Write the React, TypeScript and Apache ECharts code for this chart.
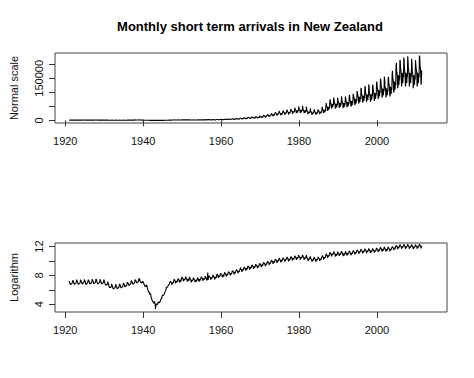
import React, { useEffect, useRef } from "react";
import * as echarts from "echarts";

const START_YEAR = 1921;
const TITLE = "Monthly short term arrivals in New Zealand";
const TOP_NAME = "Normal scale";
const BOTTOM_NAME = "Logarithm";

// Natural log of monthly arrivals, one row per year (Jan..Dec), 1921..2011
const logArrivals: number[][] = [
  [7.22, 7.16, 6.98, 6.87, 6.68, 6.63, 6.82, 6.86, 6.79, 6.91, 7.03, 7.33],
  [7.28, 7.21, 7.04, 6.91, 6.73, 6.71, 6.86, 6.88, 6.84, 6.97, 7.06, 7.42],
  [7.31, 7.18, 7.06, 6.89, 6.76, 6.69, 6.84, 6.91, 6.86, 6.94, 7.04, 7.38],
  [7.36, 7.24, 7.11, 6.94, 6.79, 6.76, 6.91, 6.94, 6.89, 7.01, 7.12, 7.44],
  [7.29, 7.21, 7.05, 6.91, 6.74, 6.71, 6.85, 6.89, 6.86, 6.96, 7.04, 7.41],
  [7.34, 7.26, 7.09, 6.96, 6.81, 6.74, 6.89, 6.96, 6.91, 6.99, 7.11, 7.46],
  [7.41, 7.29, 7.16, 6.99, 6.84, 6.81, 6.94, 7.01, 6.94, 7.06, 7.14, 7.52],
  [7.36, 7.24, 7.1, 6.94, 6.8, 6.76, 6.9, 6.94, 6.9, 7.0, 7.09, 7.47],
  [7.34, 7.26, 7.09, 6.96, 6.79, 6.74, 6.91, 6.95, 6.89, 6.99, 7.08, 7.42],
  [7.32, 7.18, 7.0, 6.84, 6.66, 6.6, 6.72, 6.75, 6.68, 6.76, 6.84, 7.16],
  [6.92, 6.8, 6.64, 6.48, 6.3, 6.24, 6.36, 6.38, 6.32, 6.4, 6.48, 6.84],
  [6.66, 6.54, 6.4, 6.24, 6.1, 6.05, 6.2, 6.24, 6.2, 6.3, 6.4, 6.76],
  [6.7, 6.6, 6.45, 6.3, 6.15, 6.1, 6.25, 6.3, 6.26, 6.36, 6.46, 6.82],
  [6.82, 6.71, 6.55, 6.4, 6.26, 6.2, 6.36, 6.4, 6.36, 6.46, 6.56, 6.92],
  [6.96, 6.86, 6.7, 6.55, 6.4, 6.35, 6.5, 6.56, 6.5, 6.6, 6.72, 7.06],
  [7.14, 7.06, 6.9, 6.76, 6.6, 6.55, 6.7, 6.76, 6.7, 6.8, 6.92, 7.26],
  [7.3, 7.2, 7.06, 6.9, 6.75, 6.7, 6.86, 6.9, 6.86, 6.96, 7.06, 7.42],
  [7.5, 7.4, 7.25, 7.1, 6.95, 6.9, 7.05, 7.1, 7.05, 7.15, 7.25, 7.6],
  [7.56, 7.45, 7.3, 7.15, 7.0, 6.95, 7.1, 7.14, 6.9, 6.85, 6.9, 7.2],
  [7.15, 7.0, 6.9, 6.75, 6.6, 6.5, 6.6, 6.55, 6.45, 6.4, 6.45, 6.7],
  [6.4, 6.25, 6.1, 5.95, 5.8, 5.65, 5.75, 5.6, 5.45, 5.35, 5.3, 5.5],
  [5.1, 4.9, 4.8, 4.65, 4.5, 4.35, 4.45, 4.3, 4.2, 4.25, 4.15, 4.4],
  [4.2, 3.95, 3.35, 3.9, 4.05, 3.85, 4.0, 4.1, 3.95, 4.05, 4.1, 4.35],
  [4.3, 4.2, 4.25, 4.35, 4.4, 4.45, 4.6, 4.7, 4.75, 4.85, 5.0, 5.2],
  [5.3, 5.2, 5.25, 5.3, 5.35, 5.4, 5.6, 5.7, 5.75, 5.85, 6.0, 6.2],
  [6.4, 6.3, 6.4, 6.45, 6.5, 6.5, 6.65, 6.7, 6.75, 6.85, 6.95, 7.2],
  [7.28, 7.12, 7.1, 6.98, 6.7, 6.78, 7.04, 6.88, 6.8, 7.02, 6.94, 7.36],
  [7.48, 7.33, 7.29, 7.18, 6.91, 6.97, 7.25, 7.07, 7.01, 7.22, 7.13, 7.57],
  [7.62, 7.47, 7.46, 7.32, 7.05, 7.14, 7.38, 7.24, 7.15, 7.37, 7.3, 7.7],
  [7.79, 7.61, 7.6, 7.49, 7.19, 7.28, 7.55, 7.37, 7.31, 7.52, 7.43, 7.86],
  [7.72, 7.58, 7.54, 7.43, 7.16, 7.22, 7.48, 7.34, 7.24, 7.47, 7.4, 7.8],
  [7.64, 7.46, 7.45, 7.34, 7.04, 7.13, 7.4, 7.22, 7.16, 7.36, 7.29, 7.7],
  [7.62, 7.48, 7.44, 7.32, 7.06, 7.12, 7.38, 7.24, 7.14, 7.38, 7.28, 7.72],
  [7.74, 7.56, 7.56, 7.42, 7.14, 7.24, 7.5, 7.32, 7.26, 7.46, 7.4, 7.82],
  [7.82, 7.68, 7.64, 7.54, 7.25, 7.32, 7.6, 7.42, 7.36, 7.58, 7.48, 7.9],
  [7.88, 7.71, 7.7, 7.58, 7.3, 7.38, 7.65, 8.42, 7.4, 7.62, 7.54, 7.96],
  [7.98, 7.82, 7.81, 7.67, 7.4, 7.48, 7.74, 7.58, 7.5, 7.72, 7.64, 8.06],
  [8.04, 7.86, 7.85, 7.74, 7.44, 7.53, 7.8, 7.62, 7.56, 7.77, 7.68, 8.12],
  [8.22, 8.08, 8.04, 7.93, 7.66, 7.72, 7.99, 7.83, 7.75, 7.97, 7.89, 8.3],
  [8.34, 8.16, 8.16, 8.03, 7.74, 7.84, 8.09, 7.93, 7.84, 8.07, 7.99, 8.42],
  [8.43, 8.28, 8.24, 8.13, 7.86, 7.92, 8.2, 8.02, 7.96, 8.17, 8.09, 8.52],
  [8.58, 8.42, 8.41, 8.27, 8.0, 8.09, 8.34, 8.18, 8.1, 8.32, 8.24, 8.66],
  [8.74, 8.56, 8.55, 8.43, 8.15, 8.22, 8.5, 8.32, 8.26, 8.47, 8.39, 8.81],
  [8.88, 8.73, 8.7, 8.58, 8.3, 8.38, 8.64, 8.48, 8.4, 8.62, 8.54, 8.96],
  [9.08, 8.92, 8.91, 8.78, 8.5, 8.58, 8.84, 8.68, 8.6, 8.82, 8.74, 9.16],
  [9.23, 9.07, 9.05, 8.93, 8.65, 8.73, 9.0, 8.83, 8.75, 8.97, 8.89, 9.31],
  [9.38, 9.22, 9.2, 9.08, 8.8, 8.88, 9.14, 8.98, 8.9, 9.12, 9.04, 9.46],
  [9.48, 9.32, 9.31, 9.18, 8.9, 8.98, 9.24, 9.08, 9.0, 9.22, 9.14, 9.56],
  [9.58, 9.42, 9.4, 9.28, 9.0, 9.08, 9.35, 9.18, 9.1, 9.32, 9.24, 9.66],
  [9.73, 9.57, 9.55, 9.43, 9.15, 9.23, 9.49, 9.33, 9.25, 9.47, 9.39, 9.81],
  [9.88, 9.72, 9.7, 9.58, 9.3, 9.38, 9.64, 9.48, 9.4, 9.62, 9.54, 9.96],
  [10.03, 9.87, 9.85, 9.73, 9.45, 9.53, 9.79, 9.63, 9.55, 9.77, 9.69, 10.11],
  [10.18, 10.02, 10.0, 9.88, 9.6, 9.68, 9.94, 9.78, 9.7, 9.92, 9.84, 10.26],
  [10.33, 10.17, 10.15, 10.03, 9.75, 9.83, 10.09, 9.93, 9.85, 10.07, 9.99, 10.41],
  [10.38, 10.22, 10.2, 10.08, 9.8, 9.88, 10.14, 9.98, 9.9, 10.12, 10.04, 10.46],
  [10.48, 10.32, 10.3, 10.18, 9.9, 9.98, 10.24, 10.08, 10.0, 10.22, 10.14, 10.56],
  [10.53, 10.37, 10.35, 10.23, 9.95, 10.03, 10.29, 10.13, 10.05, 10.27, 10.19, 10.61],
  [10.63, 10.47, 10.45, 10.33, 10.05, 10.13, 10.39, 10.23, 10.15, 10.37, 10.29, 10.71],
  [10.73, 10.57, 10.55, 10.43, 10.15, 10.23, 10.49, 10.33, 10.25, 10.47, 10.39, 10.81],
  [10.78, 10.62, 10.6, 10.48, 10.2, 10.28, 10.54, 10.38, 10.3, 10.52, 10.44, 10.86],
  [10.73, 10.57, 10.55, 10.43, 10.15, 10.23, 10.49, 10.33, 10.25, 10.47, 10.39, 10.81],
  [10.58, 10.42, 10.4, 10.28, 10.0, 10.08, 10.34, 10.18, 10.1, 10.32, 10.24, 10.66],
  [10.48, 10.32, 10.3, 10.18, 9.9, 9.98, 10.24, 10.08, 10.0, 10.22, 10.14, 10.56],
  [10.49, 10.31, 10.31, 10.17, 9.91, 9.97, 10.25, 10.07, 10.01, 10.21, 10.15, 10.57],
  [10.58, 10.42, 10.4, 10.28, 10.0, 10.08, 10.34, 10.18, 10.1, 10.32, 10.24, 10.66],
  [10.78, 10.62, 10.6, 10.48, 10.2, 10.28, 10.54, 10.38, 10.3, 10.52, 10.44, 10.86],
  [11.03, 10.87, 10.85, 10.73, 10.45, 10.53, 10.79, 10.63, 10.55, 10.77, 10.69, 11.11],
  [11.23, 11.07, 11.05, 10.93, 10.65, 10.73, 10.99, 10.83, 10.75, 10.97, 10.89, 11.31],
  [11.22, 11.08, 11.04, 10.94, 10.64, 10.74, 10.98, 10.84, 10.74, 10.98, 10.88, 11.3],
  [11.28, 11.12, 11.1, 10.98, 10.7, 10.78, 11.04, 10.88, 10.8, 11.02, 10.94, 11.36],
  [11.27, 11.13, 11.09, 10.99, 10.69, 10.79, 11.03, 10.89, 10.79, 11.03, 10.93, 11.35],
  [11.33, 11.17, 11.15, 11.03, 10.75, 10.83, 11.09, 10.93, 10.85, 11.07, 10.99, 11.41],
  [11.38, 11.22, 11.2, 11.08, 10.8, 10.88, 11.14, 10.98, 10.9, 11.12, 11.04, 11.46],
  [11.48, 11.32, 11.3, 11.18, 10.9, 10.98, 11.24, 11.08, 11.0, 11.22, 11.14, 11.56],
  [11.58, 11.42, 11.4, 11.28, 11.0, 11.08, 11.34, 11.18, 11.1, 11.32, 11.24, 11.66],
  [11.63, 11.47, 11.45, 11.33, 11.05, 11.13, 11.39, 11.23, 11.15, 11.37, 11.29, 11.71],
  [11.68, 11.52, 11.5, 11.38, 11.1, 11.18, 11.44, 11.28, 11.2, 11.42, 11.34, 11.76],
  [11.69, 11.51, 11.51, 11.37, 11.11, 11.17, 11.45, 11.27, 11.21, 11.41, 11.35, 11.75],
  [11.73, 11.57, 11.55, 11.43, 11.15, 11.23, 11.49, 11.33, 11.25, 11.47, 11.39, 11.81],
  [11.83, 11.67, 11.65, 11.53, 11.25, 11.33, 11.59, 11.43, 11.35, 11.57, 11.49, 11.91],
  [11.88, 11.72, 11.7, 11.58, 11.3, 11.38, 11.64, 11.48, 11.4, 11.62, 11.54, 11.96],
  [11.89, 11.71, 11.71, 11.57, 11.31, 11.37, 11.65, 11.47, 11.41, 11.61, 11.55, 11.95],
  [11.93, 11.77, 11.75, 11.63, 11.35, 11.43, 11.69, 11.53, 11.45, 11.67, 11.59, 12.01],
  [12.08, 11.92, 11.9, 11.78, 11.5, 11.58, 11.84, 11.68, 11.6, 11.82, 11.74, 12.16],
  [12.23, 12.07, 12.05, 11.93, 11.65, 11.73, 11.99, 11.83, 11.75, 11.97, 11.89, 12.28],
  [12.26, 12.12, 12.1, 11.98, 11.7, 11.78, 12.04, 11.88, 11.8, 12.02, 11.94, 12.32],
  [12.28, 12.11, 12.1, 11.97, 11.7, 11.78, 12.04, 11.88, 11.8, 12.02, 11.94, 12.34],
  [12.27, 12.12, 12.09, 11.98, 11.7, 11.78, 12.04, 11.88, 11.8, 12.02, 11.94, 12.3],
  [12.23, 12.07, 12.05, 11.93, 11.65, 11.73, 11.99, 11.83, 11.75, 11.97, 11.89, 12.28],
  [12.28, 12.12, 12.1, 11.98, 11.7, 11.78, 12.04, 11.88, 11.8, 12.02, 11.94, 12.35],
  [12.33, 12.17, 12.15, 12.03, 11.75, 11.83, 12.09],
];

const xTicks = [1920, 1940, 1960, 1980, 2000];
const topTicks = [0, 50000, 100000, 150000, 200000];
const topLabels = [0, 150000];
const bottomTicks = [4, 6, 8, 10, 12];
const bottomLabels = [4, 8, 12];

const FONT = "Liberation Sans, Arial, sans-serif";

export default function App() {
  const ref = useRef<HTMLDivElement>(null);
  useEffect(() => {
    const chart = echarts.init(ref.current!, null, { renderer: "svg" });
    const flat = logArrivals.flat();
    const logData = flat.map((v, i) => [START_YEAR + i / 12, v]);
    const normData = flat.map((v, i) => [START_YEAR + i / 12, Math.exp(v)]);

    const xAxis = (gridIndex: number) => ({
      type: "value",
      gridIndex,
      min: 1917.37,
      max: 2018,
      axisLine: { show: false },
      splitLine: { show: false },
      axisTick: { show: true, length: 6, customValues: xTicks, lineStyle: { color: "#333" } },
      axisLabel: {
        customValues: xTicks,
        fontFamily: FONT,
        fontSize: 11,
        color: "#111",
        margin: 12,
        formatter: (v: number) => String(v),
      },
    });

    const yAxis = (gridIndex: number, min: number, max: number, ticks: number[], labels: number[], name: string) => ({
      type: "value",
      gridIndex,
      min,
      max,
      name,
      nameLocation: "middle",
      nameRotate: 90,
      nameGap: 36,
      nameTextStyle: { fontFamily: FONT, fontSize: 11, color: "#111" },
      axisLine: { show: false },
      splitLine: { show: false },
      axisTick: { show: true, length: 6, customValues: ticks, lineStyle: { color: "#333" } },
      axisLabel: {
        customValues: labels,
        rotate: 90,
        fontFamily: FONT,
        fontSize: 11,
        color: "#111",
        margin: 11,
        formatter: (v: number) => String(v),
      },
    });

    chart.setOption({
      animation: false,
      backgroundColor: "#fff",
      graphic: [
        {
          type: "text",
          x: 250,
          y: 20,
          style: {
            text: TITLE,
            fontFamily: FONT,
            fontSize: 13,
            fontWeight: "bold",
            fill: "#000",
            textAlign: "center",
          },
        },
      ],
      grid: [
        { left: 53, right: 27, top: 53, height: 70, show: true, borderColor: "#444", borderWidth: 1, backgroundColor: "transparent" },
        { left: 53, right: 27, top: 243, height: 69, show: true, borderColor: "#444", borderWidth: 1, backgroundColor: "transparent" },
      ],
      xAxis: [xAxis(0), xAxis(1)],
      yAxis: [
        yAxis(0, -9300, 240000, topTicks, topLabels, TOP_NAME),
        yAxis(1, 2.93, 12.5, bottomTicks, bottomLabels, BOTTOM_NAME),
      ],
      series: [
        {
          type: "line",
          xAxisIndex: 0,
          yAxisIndex: 0,
          data: normData,
          showSymbol: false,
          symbol: "none",
          lineStyle: { color: "#000", width: 1.1 },
        },
        {
          type: "line",
          xAxisIndex: 1,
          yAxisIndex: 1,
          data: logData,
          showSymbol: false,
          symbol: "none",
          lineStyle: { color: "#000", width: 1.1 },
        },
      ],
    });
    return () => chart.dispose();
  }, []);

  return (
    <div
      ref={ref}
      style={{ position: "fixed", left: 0, top: 0, width: 474, height: 378, background: "#fff" }}
    />
  );
}
